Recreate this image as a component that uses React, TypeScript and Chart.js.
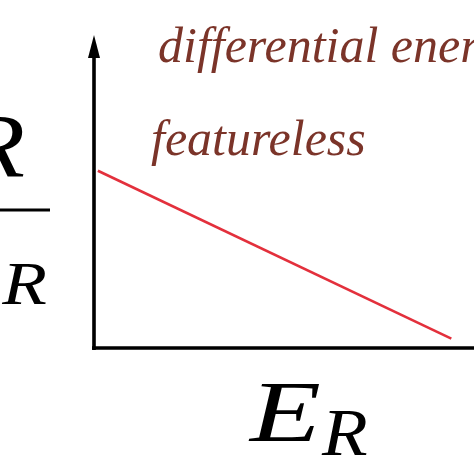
import { useRef, useEffect } from "react";
import Chart, { ChartConfiguration, Plugin } from "chart.js/auto";

// energy (arbitrary units) and the featureless rate
const energies = [0.05, 9.4];
const rates = [5.7, 0.3];

const noteLines = ["differential energy spectrum", "featureless"];
const xLabel = { main: "E", sub: "R" };
const yLabel = { num: "dR", den: "dE", denSub: "R" };

const TEXT_BROWN = "#7b3429";
const LINE_RED = "#e3303c";
const SERIF = '"Liberation Serif", "DejaVu Serif", serif';

// math glyphs in the source are wider than Times, so stretch them a bit
const wideText = (
  ctx: CanvasRenderingContext2D,
  text: string,
  x: number,
  y: number,
  sx: number
) => {
  ctx.save();
  ctx.translate(x, y);
  ctx.scale(sx, 1);
  ctx.fillText(text, 0, 0);
  ctx.restore();
};

const sketchPlugin: Plugin<"line"> = {
  id: "sketchAxes",
  afterDraw(chart) {
    const { ctx, chartArea } = chart;
    const { left, bottom } = chartArea;
    const axisX = left - 2;
    ctx.save();

    // axes
    ctx.strokeStyle = "#000";
    ctx.lineWidth = 3.6;
    ctx.beginPath();
    ctx.moveTo(axisX, bottom + 2);
    ctx.lineTo(axisX, 52);
    ctx.moveTo(axisX - 2, bottom);
    ctx.lineTo(chart.width, bottom);
    ctx.stroke();

    // arrow head on the y axis
    ctx.fillStyle = "#000";
    ctx.beginPath();
    ctx.moveTo(axisX, 35);
    ctx.lineTo(axisX - 6, 58);
    ctx.lineTo(axisX + 6, 58);
    ctx.closePath();
    ctx.fill();

    // notes
    ctx.fillStyle = TEXT_BROWN;
    ctx.font = `italic 50px ${SERIF}`;
    ctx.textAlign = "left";
    ctx.textBaseline = "alphabetic";
    ctx.fillText(noteLines[0], 158, 62);
    ctx.fillText(noteLines[1], 151, 155);

    // x label E_R
    ctx.fillStyle = "#000";
    ctx.font = `italic 86px ${SERIF}`;
    wideText(ctx, xLabel.main, 250, 441, 1.35);
    ctx.font = `italic 68px ${SERIF}`;
    wideText(ctx, xLabel.sub, 322, 455, 1.1);

    // y label dR / dE_R
    ctx.textAlign = "right";
    ctx.font = `italic 92px ${SERIF}`;
    wideText(ctx, yLabel.num, 25, 177, 1.1);
    ctx.font = `italic 62px ${SERIF}`;
    wideText(ctx, yLabel.denSub, 47, 304, 1.18);
    ctx.font = `italic 84px ${SERIF}`;
    ctx.fillText(yLabel.den, -4, 285);
    ctx.lineWidth = 3;
    ctx.beginPath();
    ctx.moveTo(-60, 210);
    ctx.lineTo(50, 210);
    ctx.stroke();

    ctx.restore();
  },
};

const App = () => {
  const chartRef = useRef<HTMLCanvasElement | null>(null);
  const chartInstance = useRef<Chart<"line", { x: number; y: number }[]> | null>(null);

  useEffect(() => {
    document.body.style.margin = "0";
    if (chartInstance.current) chartInstance.current.destroy();
    const ctx = chartRef.current?.getContext("2d");
    if (ctx) {
      const config: ChartConfiguration<"line", { x: number; y: number }[]> = {
        type: "line",
        data: {
          datasets: [
            {
              data: energies.map((e, i) => ({ x: e, y: rates[i] })),
              borderColor: LINE_RED,
              borderWidth: 2.6,
              pointRadius: 0,
              fill: false,
            },
          ],
        },
        options: {
          animation: false,
          responsive: false,
          layout: { padding: { left: 96, top: 37, right: 0, bottom: 126 } },
          plugins: { legend: { display: false }, tooltip: { enabled: false } },
          scales: {
            x: { type: "linear", min: 0, max: 10, display: false },
            y: { type: "linear", min: 0, max: 10, display: false },
          },
        },
        plugins: [sketchPlugin],
      };
      chartInstance.current = new Chart(ctx, config);
    }
    return () => {
      if (chartInstance.current) chartInstance.current.destroy();
    };
  }, []);

  return (
    <div style={{ width: 474, height: 474, background: "#fff" }}>
      <canvas ref={chartRef} width={474} height={474}></canvas>
    </div>
  );
};

export default App;
